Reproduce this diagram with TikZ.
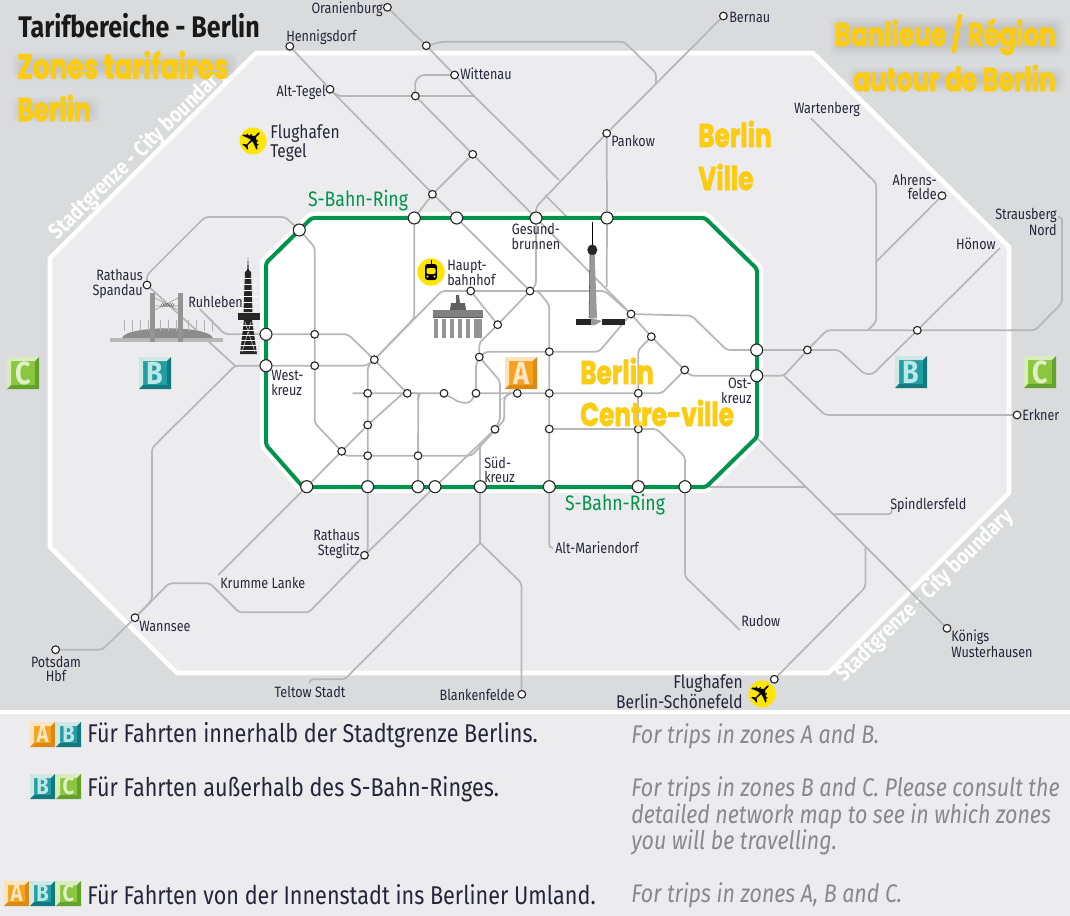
\documentclass[tikz,border=0pt]{standalone}
\usepackage{fontspec}
\setmainfont{Fira Sans}[FakeStretch=0.84]
\newfontfamily\yfont{Poppins}[FakeStretch=0.75,FakeBold=1.8]
\newfontfamily\planefont{DejaVu Sans}
\usetikzlibrary{backgrounds}
\pgfdeclarelayer{bgl}\pgfdeclarelayer{lines}
\pgfsetlayers{bgl,lines,main}
\definecolor{bgdark}{HTML}{DADBDD}
\definecolor{zonefill}{HTML}{ECECEE}
\definecolor{linegray}{HTML}{B6B7B9}
\definecolor{ringgreen}{HTML}{00934A}
\definecolor{yel}{HTML}{FBCC12}
\definecolor{labelc}{HTML}{26263A}
\definecolor{engl}{HTML}{88898C}
\definecolor{iconyel}{HTML}{FFE600}
\newcommand{\fpx}[1]{\fontsize{\the\dimexpr #1pt*3/4\relax}{\the\dimexpr #1pt*72/100\relax}\selectfont}
\tikzset{
  x=0.75pt,y=-0.75pt,
  st/.style={circle,draw=black!85,fill=white,line width=0.85pt,minimum size=5.8pt,inner sep=0pt},
  bigst/.style={circle,draw=black!85,fill=white,line width=0.85pt,minimum size=9pt,inner sep=0pt},
  ln/.style={draw=linegray,line width=1.3pt,rounded corners=2.5pt},
  lab/.style={text=labelc,inner sep=0pt,font=\fpx{15},align=left},
  labr/.style={lab,align=right},
  labc/.style={lab,align=center},
  sbahn/.style={text=ringgreen,inner sep=0pt,font=\fpx{21}},
  airp/.style={text=labelc,inner sep=0pt,font=\fpx{18.5},align=left},
  bound/.style={text=white,inner sep=0pt,font=\fpx{22}\bfseries,rotate=44.2,anchor=west},
  legend/.style={text=labelc,inner sep=0pt,font=\fpx{25.7},anchor=west},
  eng/.style={text=engl,inner sep=0pt,font=\fpx{25.5}\itshape,anchor=west},
  zlet/.style={inner sep=0pt,font=\bfseries},
}
% name, cx, cy, half size, letter, face, light, dark, letter colour
\newcommand{\zonebox}[9]{%
  \fill[#6] (#2-#4,#3-#4) rectangle (#2+#4,#3+#4);
  \fill[#7] (#2-#4,#3-#4) -- (#2+#4,#3-#4) -- (#2+#4-4,#3-#4+4) -- (#2-#4+4,#3-#4+4) -- cycle;
  \fill[#7] (#2-#4,#3-#4) -- (#2-#4+4,#3-#4+4) -- (#2-#4+4,#3+#4-4) -- (#2-#4,#3+#4) -- cycle;
  \fill[#8] (#2+#4,#3-#4) -- (#2+#4,#3+#4) -- (#2+#4-4,#3+#4-4) -- (#2+#4-4,#3-#4+4) -- cycle;
  \fill[#8] (#2-#4,#3+#4) -- (#2+#4,#3+#4) -- (#2+#4-4,#3+#4-4) -- (#2-#4+4,#3+#4-4) -- cycle;
  \node[zlet,text=#9] (#1) at (#2,#3) {\fpx{\zfont}#5};
}
\newcommand{\zfont}{32}
\newcommand{\zA}[3]{\zonebox{#1}{#2}{#3}{\zs}{A}{zaf}{zal}{zad}{zat}}
\newcommand{\zB}[3]{\zonebox{#1}{#2}{#3}{\zs}{B}{zbf}{zbl}{zbd}{zbt}}
\newcommand{\zC}[3]{\zonebox{#1}{#2}{#3}{\zs}{C}{zcf}{zcl}{zcd}{zct}}
\newcommand{\zs}{16}
\definecolor{zaf}{HTML}{F6A21E}\definecolor{zal}{HTML}{FBE3BC}\definecolor{zad}{HTML}{D98A14}\definecolor{zat}{HTML}{FCE6C4}
\definecolor{zbf}{HTML}{1F9EA3}\definecolor{zbl}{HTML}{D2E6E4}\definecolor{zbd}{HTML}{13797E}\definecolor{zbt}{HTML}{BFE6E6}
\definecolor{zcf}{HTML}{8CC63F}\definecolor{zcl}{HTML}{D9ECBE}\definecolor{zcd}{HTML}{64A22E}\definecolor{zct}{HTML}{DDF0C8}
% name, anchor, x, y, size, text : heading with a soft haze behind it
\newcommand{\yellow}[6]{%
  \node[inner sep=0pt,anchor=#2,text=yel] (#1) at (#3,#4) {\yfont\bfseries\fpx{#5}#6};
  \begin{pgfonlayer}{lines}
  \foreach \g in {7,5.5,4,2.5,1,0,-1.5,-3}{
    \fill[black,opacity=.012,rounded corners=5pt] ([shift={(-\g+2,\g-6)}]#1.south west) rectangle ([shift={(\g+2,-\g+9)}]#1.north east);}
  \end{pgfonlayer}
}
\begin{document}
\begin{tikzpicture}
\useasboundingbox (0,0) rectangle (1070,916);
%------ stations
\node[bigst] (R1) at (299.3,230) {};
\node[bigst] (R2) at (414.3,218) {};
\node[bigst] (R3) at (456.7,218) {};
\node[bigst] (Ges) at (536,218) {};
\node[bigst] (R5) at (607,218) {};
\node[bigst] (E1) at (756.7,350) {};
\node[bigst] (Ost) at (756.7,375.7) {};
\node[bigst] (S1) at (685,486.7) {};
\node[bigst] (S2) at (638.3,486.7) {};
\node[bigst] (S3) at (549.3,486.7) {};
\node[bigst] (Sued) at (480.3,486.7) {};
\node[bigst] (S5) at (435,486.7) {};
\node[bigst] (S6) at (418,486.7) {};
\node[bigst] (S7) at (367.7,486.7) {};
\node[bigst] (S8) at (306.7,486.7) {};
\node[bigst] (West) at (266,365.7) {};
\node[bigst] (Ruh) at (266,334.3) {};
\node[st] (a) at (314.7,334.3) {};
\node[st] (b) at (314.7,365.7) {};
\node[st] (c) at (374.3,359.7) {};
\node[st] (d) at (470.7,291) {};
\node[st] (e) at (530,291) {};
\node[st] (f) at (497.7,324.7) {};
\node[st] (g) at (479.3,357) {};
\node[st] (h) at (367.7,393.3) {};
\node[st] (i) at (407.3,393.3) {};
\node[st] (j) at (444,393.3) {};
\node[st] (k) at (476,393.3) {};
\node[st] (l) at (517.3,393.3) {};
\node[st] (m) at (367.7,425) {};
\node[st] (n) at (341.7,451.3) {};
\node[st] (o) at (367.7,455.7) {};
\node[st] (p) at (418,455.7) {};
\node[st] (q) at (495,429.3) {};
\node[st] (s) at (631,314) {};
\node[st] (t) at (651.3,336.7) {};
\node[st] (u) at (684.7,370) {};
\node[st] (v) at (549.3,351.7) {};
\node[st] (w) at (549.3,393.3) {};
\node[st] (x) at (638.3,393.3) {};
\node[st] (y) at (549.3,429) {};
\node[st] (z) at (638.3,429) {};
\node[st] (Oran) at (387.4,7.3) {};
\node[st] (aa) at (426.3,45.7) {};
\node[st] (Witt) at (454.6,75) {};
\node[st] (Henn) at (289.8,46.3) {};
\node[st] (Tegel) at (330,89.3) {};
\node[st] (ab) at (415.4,96) {};
\node[st] (ac) at (472.7,154.3) {};
\node[st] (ad) at (432.4,194.3) {};
\node[st] (Span) at (147,285) {};
\node[st] (Pank) at (606.7,133.3) {};
\node[st] (Bern) at (723.4,16) {};
\node[st] (Ahr) at (942,195.7) {};
\node[st] (ae) at (807.4,350) {};
\node[st] (af) at (917.3,330.3) {};
\node[st] (Erk) at (1017,415) {};
\node[st] (Wann) at (135,617.7) {};
\node[st] (Pots) at (55.6,649.7) {};
\node[st] (Steg) at (364.5,555.3) {};
\node[st] (Blan) at (521.8,694.3) {};
\node[st] (Koen) at (947,628.3) {};
\node[st] (Schoen) at (774.3,679.3) {};
\coordinate (Kru) at (218.4,575);
\coordinate (RuhE) at (199.7,309);
\coordinate (AltM) at (553,548);
\coordinate (Telt) at (309.6,683);
\coordinate (Rud) at (739.8,630);
\coordinate (Spin) at (891.7,511);
\coordinate (Hoen) at (1000,248);
\coordinate (Warten) at (810.8,118.3);
\coordinate (Straus) at (1058,217);
\coordinate (hstart) at (352.7,393.3);
%------ zones
\begin{pgfonlayer}{bgl}
\fill[bgdark] (0,0) rectangle (1070,710);
\fill[white] (0,710) rectangle (1070,713.5);
\fill[zonefill] (0,713.5) rectangle (1070,916);
\draw[white,line width=3.4pt,fill=zonefill,miter limit=4]
  (256,53) -- (813,53) -- (1009,247) -- (1009,493) -- (828.5,673) -- (177,673) -- (50,547) -- (50,258) -- cycle;
\draw[white,line width=9pt,fill=white,line join=round]
  (311.7,218) -- (705,218) -- (757,269) -- (757,437) -- (706,487) -- (303,487) -- (266,445) -- (266,263) -- cycle;
\begin{scope}
\clip (0,76) rectangle (400,300);
\node[bound] (bl) at (53,236) {Stadtgrenze - City boundary};
\end{scope}
\node[bound] (br) at (840,678) {Stadtgrenze - City boundary};
\end{pgfonlayer}
%------ lines
\begin{pgfonlayer}{lines}
\draw[ln] (Oran) -- (aa) -- (Witt) -- (474,96) -- (559,180);
\draw[ln] (aa) -- (442,41.7) -- (624,41.7) -- (656,73) -- (656,83);
\draw[ln] (Bern) -- (Pank) -- (536,207) -- (Ges);
\draw[ln] (545,195) -- (568,218);
\draw[ln] (Henn) -- (Tegel) -- (R3) -- (e);
\draw[ln] (Tegel) -- (338,96) -- (ab) -- (474,96);
\draw[ln] (Witt) -- (421,75) -- (415,81) -- (ab);
\draw[ln] (ab) -- (ac) -- (Ges) -- (s) -- (t) -- (u) -- (690,375.7) -- (Ost);
\draw[ln] (ac) -- (ad) -- (R2) -- (414.3,318) -- (c);
\draw[ln] (d) -- (441.7,291) -- (c);
\draw[ln] (Pank) -- (R5) -- (606.7,287);
\draw[ln] (Ges) -- (536,285) -- (e);
\draw[ln] (d) -- (e) -- (605,291) -- (s);
\draw[ln] (e) -- (538,291) -- (549.3,305) -- (v) -- (w) -- (y) -- (S3) -- (549.3,548) -- (AltM);
\draw[ln] (g) -- (486,351.7) -- (v) -- (599,351.7) -- (s);
\draw[ln] (g) -- (500,381) -- (500,420) -- (q) -- (S5) -- (Steg) -- (309,612.3) -- (239,612.3) -- (210,583.3) -- (169,583.3) -- (Wann) -- (102.4,649.7) -- (Pots);
\draw[ln] (l) -- (509,393.3) -- (504.3,398) -- (504.3,420) -- (471.7,455.7) -- (p) -- (o) -- (345,455.7) -- (n);
\draw[ln] (g) -- (476,364) -- (k);
\draw[ln] (g) -- (479.3,343) -- (f) -- (e);
\draw[ln] (d) -- (f);
\draw[ln] (hstart) -- (h) -- (i) -- (j) -- (460,402.7) -- (470,402.7) -- (k) -- (l) -- (w) -- (x) -- (661.7,393.3) -- (u);
\draw[ln] (i) -- (420,393.3) -- (418.3,396) -- (p) -- (S6);
\draw[ln] (c) -- (367.7,366.5) -- (h) -- (m) -- (o) -- (S7) -- (367.7,551) -- (Steg);
\draw[ln] (c) -- (366.5,365.7) -- (b) -- (West) -- (235,365.7) -- (152,448) -- (152,600) -- (Wann);
\draw[ln] (235,365.7) -- (Span);
\draw[ln] (Span) -- (147,275) -- (205,217) -- (285,217) -- (R1) -- (314.7,247) -- (a) -- (b) -- (314.7,423) -- (n);
\draw[ln] (Ruh) -- (225,334.3) -- (RuhE);
\draw[ln] (Ruh) -- (a) -- (348,334.3) -- (c) -- (i);
\draw[ln] (Kru) -- (S8) -- (n) -- (m) -- (403,393.3);
\draw[ln] (480.3,443) -- (Sued) -- (480.3,543);
\draw[ln] (480.3,543) -- (344.7,679.3) -- (309.6,679.3) -- (Telt);
\draw[ln] (480.3,543) -- (521.5,583) -- (521.5,690) -- (Blan);
\draw[ln] (y) -- (z) -- (656.7,429) -- (685,456.7) -- (S1) -- (685,576.7) -- (Rud);
\draw[ln] (x) -- (638.3,350) -- (t);
\draw[ln] (x) -- (z) -- (S2);
\draw[ln] (757,438) -- (Koen);
\draw[ln] (709,486.7) -- (806.3,486.7);
\draw[ln] (833.6,514.3) -- (891.7,514.3) -- (Spin);
\draw[ln] (865.4,546.7) -- (865.4,587.3) -- (Schoen);
\draw[ln] (E1) -- (726.7,350) -- (691.7,315.7) -- (s);
\draw[ln] (E1) -- (ae) -- (838.7,350) -- (864.4,374) -- (873,374) -- (af) -- (Hoen);
\draw[ln] (Ost) -- (784,375.7) -- (ae) -- (826.8,330.3) -- (af) -- (1035,330.3) -- (1062,303) -- (1062,217) -- (Straus);
\draw[ln] (784,375.7) -- (825,415) -- (Erk);
\draw[ln] (Warten) -- (876.3,183.3) -- (876.3,321.7) -- (867.8,330.3);
\draw[ln] (Ahr) -- (876.3,261.7);
%------ ring
\draw[ringgreen,line width=3pt,rounded corners=2pt]
  (311.7,218) -- (705,218) -- (757,269) -- (757,437) -- (706,487) -- (303,487) -- (266,445) -- (266,263) -- cycle;
\end{pgfonlayer}
%------ stadium
\fill[black!28] (110,338) rectangle (223,342);
\fill[black!45] (122,338) .. controls (126,325) and (209,325) .. (213,338) -- cycle;
\fill[black!42] (150,293) rectangle (155,342);
\fill[black!42] (178,293) rectangle (183,342);
\draw[black!38,line width=.5pt] (155,298) -- (178,310) (155,310) -- (178,298) (155,306) -- (178,306);
\foreach \cx in {162.5,165,167.5,170,172.5}
  \draw[black!60,line width=.35pt] (\cx,305) circle (1.6);
\foreach \cx in {124,132,140,148,160,168,176,188,196,204,212}
  \draw[black!30,line width=.35pt] (\cx,320) -- (\cx,331);
%------ Funkturm
\fill[black!85] (248,257) -- (248.8,270) -- (251,272) -- (252.5,312) -- (243.5,312) -- (245,272) -- (247.2,270) -- cycle;
\fill[black!85] (238,313) rectangle (260,320);
\fill[black!85] (244,320) -- (252,320) -- (257,354) -- (240,354) -- cycle;
\foreach \yy in {278,284,290,296,302,308,325,330,335,340,345,350}
  \draw[white,line width=.3pt] (240,\yy) -- (258,\yy);
\draw[white,line width=.3pt] (245,322) -- (255,352) (251,322) -- (242,352);
%------ Brandenburg Gate
\fill[black!62] (450,310) -- (451,303) -- (456,303) -- (456,295) -- (459,295) -- (460,303) -- (465,303) -- (466,310) -- cycle;
\fill[black!50] (432.7,310) rectangle (482.7,318);
\fill[black!65] (432.7,316.8) rectangle (482.7,318.2);
\foreach \cx in {436,444,452,460,468,476,480}
  \fill[black!42] (\cx-1.6,319) rectangle (\cx+1.6,338);
%------ TV tower
\fill[black] (591.8,222) rectangle (592.8,248);
\fill[black!85] (592.3,250) ellipse (5 and 5.5);
\fill[black!40] (590,255) -- (594.7,255) -- (597,318) -- (589,318) -- cycle;
\draw[black!70,line width=.4pt] (590,255) -- (589,318);
\fill[black!85] (576,318.5) rectangle (591,325);
\fill[black!85] (602,318.5) rectangle (625,325);
\fill[black!40] (591,318) -- (602,321) -- (595,325) -- (591,325) -- cycle;
%------ icons
\fill[iconyel] (253,141) circle (13.5);
\node[inner sep=0pt,text=black,rotate=45] (ptegel) at (253,141) {\planefont\fpx{29}\symbol{"2708}};
\fill[iconyel] (762,694) circle (13.5);
\node[inner sep=0pt,text=black,rotate=45] (pschoen) at (762,694) {\planefont\fpx{29}\symbol{"2708}};
\fill[iconyel] (431,272) circle (13.7);
\fill[black,rounded corners=2pt] (425,264) rectangle (437,280);
\fill[iconyel,rounded corners=1pt] (426.5,268) rectangle (435.5,274);
\fill[iconyel] (427.5,276.5) circle (1.1) (434.5,276.5) circle (1.1);
\draw[black,line width=.5pt] (431,264) -- (431,260);
%------ labels
\node[labr,anchor=east] (lOran) at (383,9) {Oranienburg};
\node[lab,anchor=west] (lHenn) at (286,37) {Hennigsdorf};
\node[lab,anchor=west] (lWitt) at (460,74) {Wittenau};
\node[lab,anchor=east] (lTeg) at (326,92) {Alt-Tegel};
\node[airp,anchor=west] (lFT) at (270,143) {Flughafen\\Tegel};
\node[sbahn] (sb1) at (358,201) {S-Bahn-Ring};
\node[sbahn] (sb2) at (615,505) {S-Bahn-Ring};
\node[lab,anchor=west] (lPank) at (611,141) {Pankow};
\node[lab,anchor=west] (lBern) at (729,17) {Bernau};
\node[lab] (lWart) at (827,109.5) {Wartenberg};
\node[labr,anchor=east] (lAhr) at (937,187) {Ahrens-\\felde};
\node[labr,anchor=east] (lStr) at (1057,222) {Strausberg\\Nord};
\node[lab,anchor=east] (lHoe) at (996,244) {Hönow};
\node[labc] (lGes) at (536,236.5) {Gesund-\\brunnen};
\node[lab,anchor=west] (lHbf) at (447,273) {Haupt-\\bahnhof};
\node[labr,anchor=east] (lSpan) at (143,284) {Rathaus\\Spandau};
\node[lab,anchor=west] (lRuh) at (188,302) {Ruhleben};
\node[lab,anchor=west] (lWest) at (271,383) {West-\\kreuz};
\node[labr,anchor=east] (lOst) at (752,391) {Ost-\\kreuz};
\node[lab,anchor=west] (lSued) at (484,470) {Süd-\\kreuz};
\node[labr,anchor=east] (lSteg) at (360,544) {Rathaus\\Steglitz};
\node[lab,anchor=west] (lKru) at (220,583) {Krumme Lanke};
\node[lab,anchor=west] (lWann) at (139,626) {Wannsee};
\node[labc] (lPots) at (56,669) {Potsdam\\Hbf};
\node[lab] (lTelt) at (310,692) {Teltow Stadt};
\node[lab,anchor=east] (lBlan) at (515,695) {Blankenfelde};
\node[lab,anchor=west] (lAltM) at (555,548) {Alt-Mariendorf};
\node[lab,anchor=west] (lRud) at (741,621) {Rudow};
\node[lab,anchor=west] (lSpin) at (890,505) {Spindlersfeld};
\node[lab,anchor=west] (lErk) at (1022,415) {Erkner};
\node[lab,anchor=west] (lKoe) at (951,644) {Königs\\Wusterhausen};
\node[airp,align=right,anchor=east] (lFS) at (743,692) {Flughafen\\Berlin-Schönefeld};
%------ zone blocks
\zC{zc1}{23}{373}
\zB{zb1}{155}{373}
\zA{za1}{521}{373}
\zB{zb2}{911}{372}
\zC{zc2}{1040}{372}
\renewcommand{\zs}{12.5}\renewcommand{\zfont}{24}
\zA{la1}{42.5}{734.5}\zB{lb1}{68.5}{734.5}
\zB{lb2}{42.5}{786.5}\zC{lc2}{68.5}{786.5}
\zA{la3}{16.5}{893.5}\zB{lb3}{42.5}{893.5}\zC{lc3}{68.5}{893.5}
%------ headings
\node[inner sep=0pt,anchor=west,text=black!90,font=\fpx{29.8}\bfseries] (title) at (18,26) {Tarifbereiche - Berlin};
\yellow{y1}{west}{17}{65}{35}{Zones tarifaires}
\yellow{y2}{west}{17}{108}{33}{Berlin}
\yellow{y3}{east}{1056}{35}{33}{Banlieue / Région}
\yellow{y4}{east}{1056}{78}{33}{autour de Berlin}
\node[inner sep=0pt,anchor=west,text=yel] (y5) at (698,134) {\yfont\bfseries\fpx{33}Berlin};
\node[inner sep=0pt,anchor=west,text=yel] (y6) at (698,177) {\yfont\bfseries\fpx{33}Ville};
\node[inner sep=0pt,anchor=west,text=yel] (y7) at (580,371) {\yfont\bfseries\fpx{33}Berlin};
\node[inner sep=0pt,anchor=west,text=yel] (y8) at (580,413) {\yfont\bfseries\fpx{33}Centre-ville};
%------ legend
\node[legend] (t1) at (87,735) {Für Fahrten innerhalb der Stadtgrenze Berlins.};
\node[legend] (t2) at (87,789) {Für Fahrten außerhalb des S-Bahn-Ringes.};
\node[legend] (t3) at (87,895) {Für Fahrten von der Innenstadt ins Berliner Umland.};
\node[eng] (e1) at (631,736) {For trips in zones A and B.};
\node[eng] (e2) at (631,789) {For trips in zones B and C. Please consult the};
\node[eng] (e3) at (631,816) {detailed network map to see in which zones};
\node[eng] (e4) at (631,842) {you will be travelling.};
\node[eng] (e5) at (631,895) {For trips in zones A, B and C.};
\end{tikzpicture}
\end{document}
